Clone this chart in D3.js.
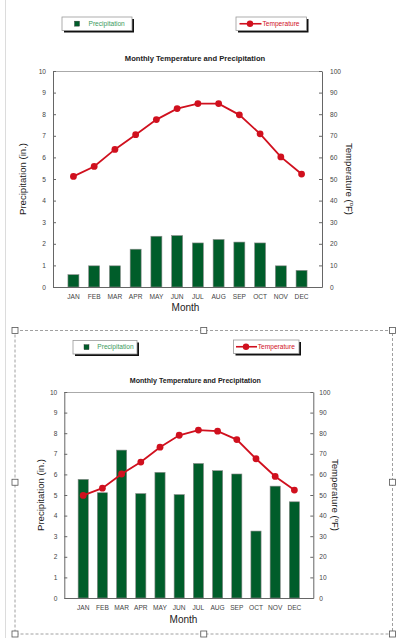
<!DOCTYPE html>
<html>
<head>
<meta charset="utf-8">
<script src="https://cdn.jsdelivr.net/npm/d3@7"></script>
<style>
html,body{margin:0;padding:0;background:#fff;}
svg{display:block;font-family:"Liberation Sans",Arial,sans-serif;}
</style>
</head>
<body>
<svg id="c" width="402" height="638"></svg>
<script>
const months = ["JAN","FEB","MAR","APR","MAY","JUN","JUL","AUG","SEP","OCT","NOV","DEC"];
const precipTop = [0.57,0.98,0.98,1.75,2.35,2.38,2.04,2.20,2.08,2.04,0.98,0.77];
const tempTop = [51.2,55.8,63.7,70.5,77.5,82.6,84.9,84.9,79.7,70.9,60.2,52.3];
const precipBottom = [5.76,5.11,7.18,5.07,6.10,5.02,6.53,6.18,6.02,3.25,5.43,4.67];
const tempBottom = [49.8,53.3,60.2,66.0,73.2,79.0,81.5,81.0,76.9,67.6,59.0,52.4];
const precipTicks = [0,1,2,3,4,5,6,7,8,9,10];
const tempTicks = [0,10,20,30,40,50,60,70,80,90,100];
const titleText = "Monthly Temperature and Precipitation";
const precipLabel = "Precipitation (in.)";
const tempLabel = "Temperature (";
const xLabel = "Month";
const legendPrecip = "Precipitation";
const legendTemp = "Temperature";

const GREEN = "#005d2a", RED = "#d0101e";
const svg = d3.select("#c");

// faint page edge line
svg.append("line").attr("x1",5.5).attr("x2",5.5).attr("y1",0).attr("y2",638)
  .attr("stroke","#dcdcdc").attr("stroke-width",1);

function drawChart(o){
  const g = svg.append("g");
  const x = d3.scaleBand().domain(months).range([o.left,o.right]).paddingInner(0.47).paddingOuter(0.72);
  const yP = d3.scaleLinear().domain([0,10]).range([o.bottom,o.top]);
  const yT = d3.scaleLinear().domain([0,100]).range([o.bottom,o.top]);

  // legends
  function legBox(x0,x1,y0,y1){
    g.append("rect").attr("x",x0+2).attr("y",y0+2).attr("width",x1-x0).attr("height",y1-y0).attr("fill","#111");
    g.append("rect").attr("x",x0).attr("y",y0).attr("width",x1-x0).attr("height",y1-y0)
      .attr("fill","#fff").attr("stroke","#999").attr("stroke-width",0.8);
  }
  const lp = o.legP;
  legBox(lp.x0,lp.x1,lp.y0,lp.y1);
  const lpy = (lp.y0+lp.y1)/2;
  g.append("rect").attr("x",lp.sq).attr("y",lpy-2.6).attr("width",5).attr("height",5).attr("fill",GREEN).attr("stroke","#333").attr("stroke-width",0.4);
  g.append("text").attr("x",lp.tx).attr("y",lpy+2.2).attr("font-size",6.6).attr("fill","#3a9a5c").text(legendPrecip);
  const lt = o.legT;
  legBox(lt.x0,lt.x1,lt.y0,lt.y1);
  const lty = (lt.y0+lt.y1)/2;
  g.append("line").attr("x1",lt.l0).attr("x2",lt.l1).attr("y1",lty).attr("y2",lty).attr("stroke",RED).attr("stroke-width",1.6);
  g.append("circle").attr("cx",lt.m).attr("cy",lty).attr("r",3.2).attr("fill",RED);
  g.append("text").attr("x",lt.tx).attr("y",lty+2.2).attr("font-size",6.6).attr("fill",RED).text(legendTemp);

  // title
  g.append("text").attr("x",o.titleX).attr("y",o.titleY).attr("text-anchor","middle")
    .attr("font-size",o.titleSize).attr("font-weight","bold").attr("fill","#222").text(titleText);

  // frame
  g.append("line").attr("x1",o.left).attr("x2",o.right).attr("y1",o.top+0.5).attr("y2",o.top+0.5).attr("stroke","#aaa").attr("stroke-width",1);

  // bars
  g.selectAll("rect.bar").data(months).enter().append("rect").attr("class","bar")
    .attr("x",d=>x(d)).attr("width",x.bandwidth())
    .attr("y",(d,i)=>yP(o.precip[i])).attr("height",(d,i)=>o.bottom-yP(o.precip[i]))
    .attr("fill",GREEN).attr("stroke","#8a8a8a").attr("stroke-width",0.6);

  // axes
  const axL = g.append("g").attr("transform",`translate(${o.left},0)`)
    .call(d3.axisLeft(yP).tickValues(precipTicks).tickSizeInner(-3).tickSizeOuter(0).tickPadding(7));
  const axR = g.append("g").attr("transform",`translate(${o.right},0)`)
    .call(d3.axisRight(yT).tickValues(tempTicks).tickSizeInner(-3).tickSizeOuter(0).tickPadding(o.rPad));
  const axB = g.append("g").attr("transform",`translate(0,${o.bottom})`)
    .call(d3.axisBottom(x).tickSize(0).tickSizeOuter(0).tickPadding(o.bPad));
  [axL,axR,axB].forEach(a=>{
    a.selectAll(".domain").attr("stroke","#666").attr("stroke-width",1);
    a.selectAll(".tick line").attr("stroke","#666");
    a.selectAll("text").attr("font-size",6.6).attr("fill","#444").attr("font-family","Liberation Sans, Arial, sans-serif");
  });

  // temperature line
  const line = d3.line().x((d,i)=>x(months[i])+x.bandwidth()/2).y(d=>yT(d));
  g.append("path").datum(o.temp).attr("d",line).attr("fill","none").attr("stroke",RED).attr("stroke-width",1.8);
  g.selectAll("circle.pt").data(o.temp).enter().append("circle").attr("class","pt")
    .attr("cx",(d,i)=>x(months[i])+x.bandwidth()/2).attr("cy",d=>yT(d)).attr("r",3.4).attr("fill",RED);

  // axis titles
  const cy = (o.top+o.bottom)/2;
  g.append("text").attr("transform",`translate(${o.lTitleX},${cy}) rotate(-90)`).attr("text-anchor","middle")
    .attr("font-size",9.6).attr("fill","#222").text(precipLabel);
  const rt = g.append("text").attr("transform",`translate(${o.rTitleX},${cy}) rotate(90)`).attr("text-anchor","middle")
    .attr("font-size",9.6).attr("fill","#222");
  rt.append("tspan").text(tempLabel);
  rt.append("tspan").attr("dy",-3.5).attr("font-size",6).text("o");
  rt.append("tspan").attr("dy",3.5).text("F)");
  g.append("text").attr("x",o.monthX).attr("y",o.monthY).attr("text-anchor","middle")
    .attr("font-size",10).attr("fill","#222").text(xLabel);
}

drawChart({
  left:53, right:322, top:71, bottom:287,
  precip:precipTop, temp:tempTop,
  legP:{x0:62,x1:132,y0:17,y1:30.5,sq:74.5,tx:88.5},
  legT:{x0:236,x1:306.5,y0:17,y1:30.5,l0:239.5,l1:261.5,m:250,tx:262.5},
  titleX:195, titleY:60.5, titleSize:7.6,
  rPad:8, bPad:7,
  lTitleX:26, rTitleX:346, monthX:185.5, monthY:311
});

drawChart({
  left:64.3, right:313.3, top:392, bottom:598,
  precip:precipBottom, temp:tempBottom,
  legP:{x0:73,x1:137,y0:340.5,y1:354,sq:84,tx:97.3},
  legT:{x0:233.5,x1:299,y0:340,y1:353.5,l0:236,l1:257,m:246,tx:257.8},
  titleX:195.3, titleY:382.5, titleSize:7.1,
  rPad:6, bPad:7,
  lTitleX:43.5, rTitleX:331.5, monthX:183.5, monthY:622.5
});

// dashed selection frame with handles
const fx0=15, fx1=392.5, fy0=330.5, fy1=634;
svg.append("rect").attr("x",fx0).attr("y",fy0).attr("width",fx1-fx0).attr("height",fy1-fy0)
  .attr("fill","none").attr("stroke","#888").attr("stroke-width",0.8).attr("stroke-dasharray","3,2");
const handles = [[fx0,fy0],[(fx0+fx1)/2,fy0],[fx1,fy0],[fx0,(fy0+fy1)/2],[fx1,(fy0+fy1)/2],[fx0,fy1],[(fx0+fx1)/2,fy1],[fx1,fy1]];
svg.selectAll("rect.h").data(handles).enter().append("rect").attr("class","h")
  .attr("x",d=>d[0]-3).attr("y",d=>d[1]-3).attr("width",6).attr("height",6)
  .attr("fill","#fff").attr("stroke","#555").attr("stroke-width",0.8);
</script>
</body>
</html>
